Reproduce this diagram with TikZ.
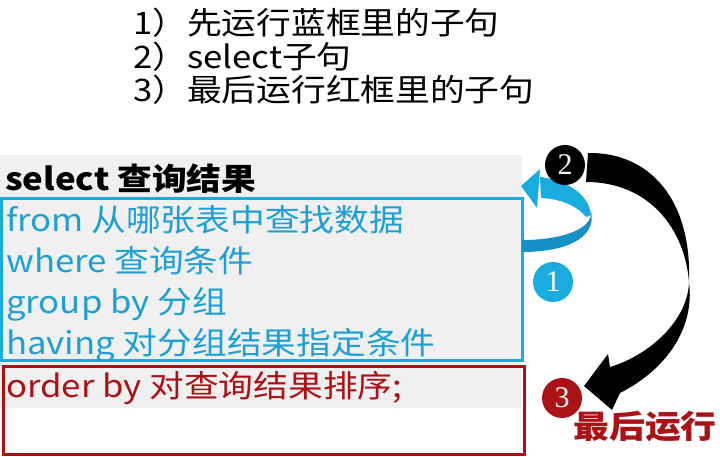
\documentclass[tikz,border=0pt]{standalone}
\usepackage{fontspec}
\setmainfont{Noto Sans CJK SC}[FakeStretch=1.12]
\newfontfamily\digitfont{Liberation Serif}
\definecolor{sqlblue}{RGB}{30,160,212}
\definecolor{boxblue}{RGB}{25,172,222}
\definecolor{swirldark}{RGB}{22,145,200}
\definecolor{sqlred}{RGB}{170,18,22}
\definecolor{panelgray}{RGB}{240,240,240}
\begin{document}
\begin{tikzpicture}[x=1pt,y=-1pt,
        numdot/.style={circle,inner sep=0pt,minimum size=40pt,text=white,
                font=\digitfont\fontsize{30}{30}\selectfont}]
        \useasboundingbox (0,0) rectangle (720,457);
        % panel and the two frames
        \fill[panelgray] (0,155) rectangle (522,408);
        \draw[boxblue,line width=3pt] (1.5,199) rectangle (522,360);
        \draw[sqlred,line width=3pt] (3,366) rectangle (524,454);
        \begin{scope}[every node/.style={anchor=base west,inner sep=0pt,
                        font=\fontsize{31}{31}\selectfont}]
            \node (T1) at (133,35) {1）先运行蓝框里的子句};
            \node (T2) at (133,68.5) {2）select子句};
            \node (T3) at (133,102) {3）最后运行红框里的子句};
            \node (S) at (5,191) [font=\bfseries\fontsize{31}{31}\selectfont] {select 查询结果};
            \node (F) at (6,231) [sqlblue] {from 从哪张表中查找数据};
            \node (W) at (6,272) [sqlblue] {where 查询条件};
            \node (G) at (6,313) [sqlblue] {group by 分组};
            \node (H) at (6,354) [sqlblue] {having 对分组结果指定条件};
            \node (O) at (6,397) [sqlred] {order by 对查询结果排序;};
        \end{scope}
        % blue swirl
        \fill[boxblue] (540,177) .. controls (566,180) and (589,194) .. (591,215)
            -- (586,217) .. controls (578,207) and (563,199) .. (541,198) -- cycle;
        \fill[boxblue] (521,186) -- (540,169) -- (537,208) -- cycle;
        \fill[swirldark] (591,211) .. controls (593,230) and (560,240) .. (522,240)
            -- (522,252) .. controls (566,252) and (597,238) .. (591,211) -- cycle;
        % black arrow
        \fill[black] (586,182) .. controls (650,182) and (685,230) .. (689,282)
            .. controls (688,320) and (650,355) .. (610,367)
            -- (608,354) -- (584,386) -- (612,410) -- (620,393)
            .. controls (665,370) and (695,330) .. (689,282)
            .. controls (692,200) and (650,152) .. (588,153) -- cycle;
        \node (N1) at (553,282) [numdot,fill=boxblue] {1};
        \node (N2) at (565,165) [numdot,fill=black] {2};
        \node (N3) at (562,398) [numdot,fill=sqlred] {3};
        \node (L) at (645,427) [sqlred,font=\bfseries\fontsize{32}{32}\selectfont] {最后运行};
    \end{tikzpicture}
\end{document}
